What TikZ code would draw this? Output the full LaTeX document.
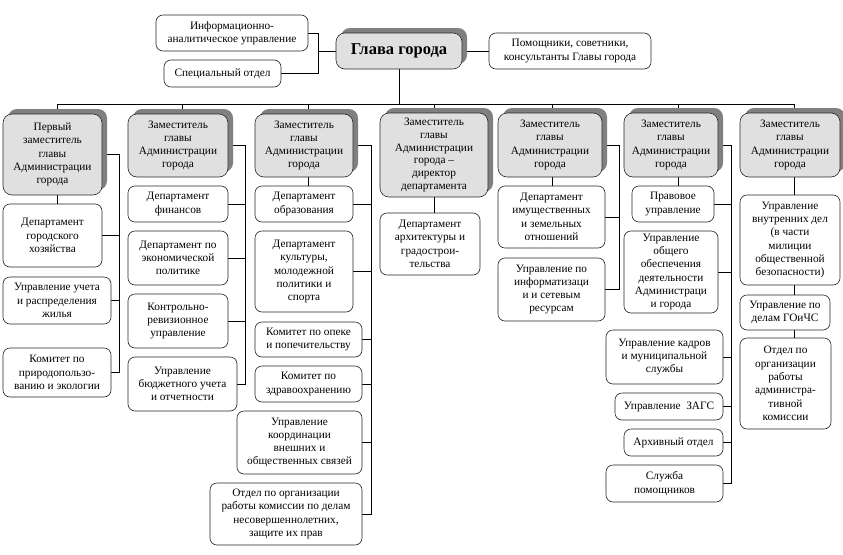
\documentclass[tikz,border=0pt]{standalone}
\usepackage{fontspec}
\setmainfont{Liberation Serif}
\usetikzlibrary{shadows}
\pgfdeclarelayer{background}
\pgfsetlayers{background,main}
\newcommand\mybox[7][box]{\node[#1, minimum width={(#4-#2)*1pt}, minimum height={(#5-#3)*1pt}] (#6) at ({(#2+#4)/2},{(#3+#5)/2}) {#7};}
\begin{document}
\begin{tikzpicture}[x=1pt,y=-1pt,
 box/.style={draw=black!85, rounded corners=7pt, fill=white, align=center, inner sep=1pt, line width=0.6pt, font=\fontsize{11.3}{13.3}\selectfont},
 head/.style={box, fill=black!12, rounded corners=9pt, general shadow={fill=black!50, shadow xshift=5pt, shadow yshift=5pt}},
 conn/.style={line width=0.8pt, black}]
\useasboundingbox (0,0) rectangle (843,554);
% top
\mybox[head,font=\fontsize{16.5}{18}\selectfont\bfseries]{336}{33}{462}{69}{head0}{Глава города}
\mybox{156}{15}{308}{51}{info}{Информационно-\\аналитическое управление}
\mybox{164}{60}{281}{87}{spec}{Специальный отдел}
\mybox{489}{33}{651}{69}{pom}{Помощники, советники,\\консультанты Главы города}
% column 1
\mybox[head]{3}{114}{102}{195}{h1}{Первый\\заместитель\\главы\\Администрации\\города}
\mybox{3}{204}{102}{267}{c11}{Департамент\\городского\\хозяйства}
\mybox{3}{277}{111}{324}{c12}{Управление учета\\и распределения\\жилья}
\mybox{3}{348}{111}{397}{c13}{Комитет по\\природопользо-\\ванию и экологии}
% column 2
\mybox[head]{128}{114}{228}{177}{h2}{Заместитель\\главы\\Администрации\\города}
\mybox{128}{186}{228}{222}{c21}{Департамент\\финансов}
\mybox{128}{231}{228}{285}{c22}{Департамент по\\экономической\\политике}
\mybox{128}{294}{228}{348}{c23}{Контрольно-\\ревизионное\\управление}
\mybox{128}{357}{237}{411}{c24}{Управление\\бюджетного учета\\и отчетности}
% column 3
\mybox[head]{255}{114}{353}{177}{h3}{Заместитель\\главы\\Администрации\\города}
\mybox{255}{186}{353}{222}{c31}{Департамент\\образования}
\mybox{255}{231}{353}{312}{c32}{Департамент\\культуры,\\молодежной\\политики и\\спорта}
\mybox{255}{322}{362}{357}{c33}{Комитет по опеке\\и попечительству}
\mybox{255}{366}{362}{402}{c34}{Комитет по\\здравоохранению}
\mybox{237}{411}{362}{474}{c35}{Управление\\координации\\внешних и\\общественных связей}
\mybox{210}{483}{362}{545}{c36}{Отдел по организации\\работы комиссии по делам\\несовершеннолетних,\\защите их прав}
% column 4
\mybox[head,font=\fontsize{11.3}{12.8}\selectfont]{380}{113}{488}{197}{h4}{Заместитель\\главы\\Администрации\\города –\\директор\\департамента}
\mybox{380}{213}{480}{275}{c41}{Департамент\\архитектуры и\\градострои-\\тельства}
% column 5
\mybox[head]{498}{113}{602}{177}{h5}{Заместитель\\главы\\Администрации\\города}
\mybox{498}{186}{605}{248}{c51}{Департамент\\имущественных\\и земельных\\отношений}
\mybox{498}{258}{605}{321}{c52}{Управление по\\информатизаци\\и и сетевым\\ресурсам}
% column 6
\mybox[head]{624}{113}{718}{177}{h6}{Заместитель\\главы\\Администрации\\города}
\mybox{632}{186}{714}{222}{c61}{Правовое\\управление}
\mybox{624}{231}{718}{313}{c62}{Управление\\общего\\обеспечения\\деятельности\\Администраци\\и города}
\mybox{606}{330}{723}{384}{c63}{Управление кадров\\и муниципальной\\службы}
\mybox{615}{393}{723}{420}{c64}{Управление~~ЗАГС}
\mybox{624}{429}{723}{456}{c65}{Архивный отдел}
\mybox{606}{465}{723}{502}{c66}{Служба\\помощников}
% column 7
\mybox[head]{740}{113}{840}{177}{h7}{Заместитель\\главы\\Администрации\\города}
\mybox{740}{195}{840}{285}{c71}{Управление\\внутренних дел\\(в части\\милиции\\общественной\\безопасности)}
\mybox{740}{295}{830}{330}{c72}{Управление по\\делам ГОиЧС}
\mybox{740}{338}{831}{429}{c73}{Отдел по\\организации\\работы\\администра-\\тивной\\комиссии}
% coordinates
\coordinate (d1) at (57,104);
\coordinate (d2) at (182,104);
\coordinate (d3) at (308,104);
\coordinate (d4) at (434,104);
\coordinate (d5) at (552,104);
\coordinate (d6) at (678,104);
\coordinate (d7) at (794,104);
\coordinate (r1) at (119,0);
\coordinate (r2) at (245,0);
\coordinate (r3) at (371,0);
\coordinate (r5) at (619,0);
\coordinate (r6) at (731,0);
\coordinate (tj) at (318,0);
\begin{pgfonlayer}{background}
\draw[conn] (head0.south) -- (head0.south |- d1);
\draw[conn] (d1) -- (d7);
\foreach \k in {1,...,7} {\draw[conn] (d\k) -- (d\k |- h\k.north);}
\draw[conn] (d1 |- h1.south) -- (d1 |- c11.north);
\draw[conn] (d3 |- h3.south) -- (d3 |- c31.north);
\draw[conn] (d4 |- h4.south) -- (d4 |- c41.north);
\draw[conn] (d5 |- h5.south) -- (d5 |- c51.north);
\draw[conn] (d6 |- h6.south) -- (d6 |- c61.north);
\draw[conn] (d7 |- h7.south) -- (d7 |- c71.north);
\draw[conn] (d7 |- c71.south) -- (d7 |- c72.north);
\draw[conn] (d7 |- c72.south) -- (d7 |- c73.north);
% top side
\draw[conn] (info.east) -| (tj |- spec.east) -- (spec.east);
\draw[conn] (tj |- head0.west) -- (head0.west);
\draw[conn] (head0.east) -- (pom.west);
% column buses
\draw[conn] (h1.east) -| (r1 |- c13.east) -- (c13.east);
\foreach \c in {c11,c12} {\draw[conn] (\c.east) -- (r1 |- \c.east);}
\draw[conn] (h2.east) -| (r2 |- c24.east) -- (c24.east);
\foreach \c in {c21,c22,c23} {\draw[conn] (\c.east) -- (r2 |- \c.east);}
\draw[conn] (h3.east) -| (r3 |- c36.east) -- (c36.east);
\foreach \c in {c31,c32,c33,c34,c35} {\draw[conn] (\c.east) -- (r3 |- \c.east);}
\draw[conn] (h5.east) -| (r5 |- c52.east) -- (c52.east);
\draw[conn] (c51.east) -- (r5 |- c51.east);
\draw[conn] (h6.east) -| (r6 |- c66.east) -- (c66.east);
\foreach \c in {c61,c62,c63,c64,c65} {\draw[conn] (\c.east) -- (r6 |- \c.east);}
\end{pgfonlayer}
\end{tikzpicture}
\end{document}
